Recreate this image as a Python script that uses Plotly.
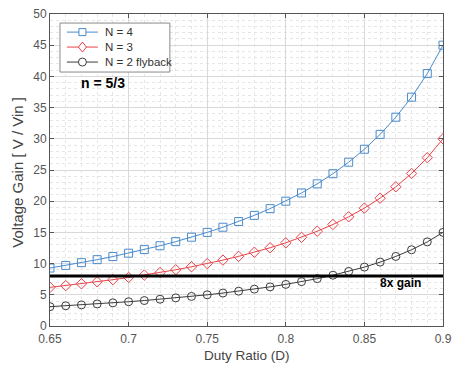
import plotly.graph_objects as go

duty = [0.65, 0.66, 0.67, 0.68, 0.69, 0.70, 0.71, 0.72, 0.73, 0.74, 0.75, 0.76, 0.77,
        0.78, 0.79, 0.80, 0.81, 0.82, 0.83, 0.84, 0.85, 0.86, 0.87, 0.88, 0.89, 0.90]
gain_n4 = [9.29, 9.71, 10.15, 10.63, 11.13, 11.67, 12.24, 12.86, 13.52, 14.23, 15.0, 15.83, 16.74,
           17.73, 18.81, 20.0, 21.32, 22.78, 24.41, 26.25, 28.33, 30.71, 33.46, 36.67, 40.45, 45.0]
gain_n3 = [6.19, 6.47, 6.77, 7.08, 7.42, 7.78, 8.16, 8.57, 9.01, 9.49, 10.0, 10.56, 11.16,
           11.82, 12.54, 13.33, 14.21, 15.19, 16.27, 17.5, 18.89, 20.48, 22.31, 24.44, 26.97, 30.0]
gain_n2 = [3.10, 3.24, 3.38, 3.54, 3.71, 3.89, 4.08, 4.29, 4.51, 4.74, 5.0, 5.28, 5.58,
           5.91, 6.27, 6.67, 7.11, 7.59, 8.14, 8.75, 9.44, 10.24, 11.15, 12.22, 13.48, 15.0]
target_gain = 8
series_names = ["N = 4", "N = 3", "N = 2 flyback"]
x_ticks = [0.65, 0.7, 0.75, 0.8, 0.85, 0.9]
x_tick_text = ["0.65", "0.7", "0.75", "0.8", "0.85", "0.9"]
x_title = "Duty Ratio (D)"
y_title = "Voltage Gain [ V / Vin ]"

FONT = "Liberation Sans"
colors = ["#4a8bcc", "#e8434a", "#3c3c3c"]
symbols = ["square-open", "diamond-open", "circle-open"]

fig = go.Figure()
for name, ys, col, sym in zip(series_names, [gain_n4, gain_n3, gain_n2], colors, symbols):
    fig.add_trace(go.Scatter(
        x=duty, y=ys, name=name, mode="lines+markers",
        line=dict(color=col, width=1),
        marker=dict(symbol=sym, size=8, color=col, line=dict(width=1, color=col)),
    ))

fig.add_trace(go.Scatter(x=[duty[0], duty[-1]], y=[target_gain, target_gain], mode="lines",
                         line=dict(color="black", width=3), showlegend=False, hoverinfo="skip"))

fig.add_annotation(x=0.684, y=38.9, text="<b>n = 5/3</b>", showarrow=False,
                   font=dict(size=14, color="black", family=FONT))
fig.add_annotation(x=0.873, y=6.9, text="<b>8x gain</b>", showarrow=False,
                   font=dict(size=12, color="black", family=FONT))

# axis titles
fig.add_annotation(xref="paper", yref="paper", x=0.5, y=-0.096, text=x_title, showarrow=False,
                   xanchor="center", yanchor="middle", font=dict(size=13.5, color="#444", family=FONT))
fig.add_annotation(xref="paper", yref="paper", x=-0.082, y=0.494, text=y_title, showarrow=False,
                   textangle=-90, xanchor="center", yanchor="middle",
                   font=dict(size=15, color="#444", family=FONT))

# custom compact legend (drawn in plot-area paper coordinates)
shapes = [dict(type="rect", xref="paper", yref="paper", x0=0.0254, x1=0.305, y0=0.814, y1=0.971,
               fillcolor="white", line=dict(color="#8a8a8a", width=1), layer="above")]
row_y = [0.942, 0.894, 0.846]
diamond = "M0,-5 L4,0 L0,5 L-4,0 Z"
for name, col, sym, yy in zip(series_names, colors, symbols, row_y):
    shapes.append(dict(type="line", xref="paper", yref="paper", x0=0.043, x1=0.122, y0=yy, y1=yy,
                       line=dict(color=col, width=1), layer="above"))
    base = dict(xref="paper", yref="paper", xsizemode="pixel", ysizemode="pixel",
                xanchor=0.0825, yanchor=yy, fillcolor="white", line=dict(color=col, width=1),
                layer="above")
    if sym.startswith("square"):
        shapes.append(dict(type="rect", x0=-3.5, x1=3.5, y0=-3.5, y1=3.5, **base))
    elif sym.startswith("diamond"):
        shapes.append(dict(type="path", path=diamond, **base))
    else:
        shapes.append(dict(type="circle", x0=-4, x1=4, y0=-4, y1=4, **base))
    fig.add_annotation(xref="paper", yref="paper", x=0.135, y=yy, text=name, showarrow=False,
                       xanchor="left", yanchor="middle",
                       font=dict(size=11.5, color="#333", family=FONT))
fig.update_layout(shapes=shapes)

axis_common = dict(
    showline=True, linecolor="#555", linewidth=1, mirror="ticks",
    ticks="inside", ticklen=4, tickcolor="#555",
    showgrid=True, gridcolor="#d9d9d9", gridwidth=1,
    zeroline=False, automargin=False,
    tickfont=dict(size=12, color="#555", family=FONT),
)

fig.update_xaxes(range=[0.65, 0.9], tickvals=x_ticks, ticktext=x_tick_text, ticklabelstandoff=2,
                 minor=dict(dtick=0.01, showgrid=True, gridcolor="#e6e6e6", griddash="dot", ticks=""),
                 **axis_common)
fig.update_yaxes(range=[0, 50], dtick=5,
                 minor=dict(dtick=1, showgrid=True, gridcolor="#e6e6e6", griddash="dot", ticks=""),
                 **axis_common)

fig.update_layout(
    width=474, height=369,
    margin=dict(l=50, r=31, t=14, b=43),
    paper_bgcolor="white", plot_bgcolor="white",
    font=dict(family=FONT, color="#333"),
    showlegend=False,
)

fig.write_html("out.html", config={"displayModeBar": False, "staticPlot": True},
               post_script="document.body.style.margin='0px';")
